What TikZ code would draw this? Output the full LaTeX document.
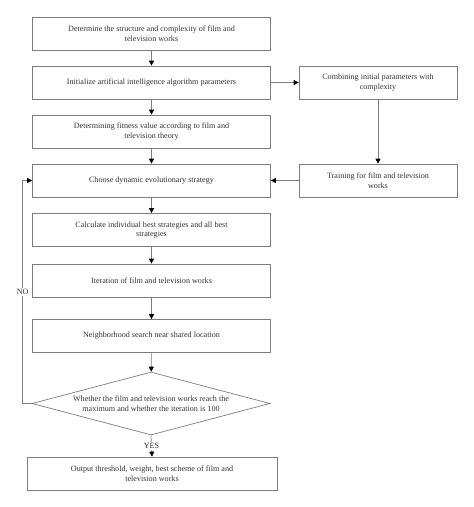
\documentclass[tikz,border=0pt]{standalone}
\usepackage{fontspec}
\setmainfont{Liberation Serif}
\usetikzlibrary{shapes.geometric,arrows.meta}
\definecolor{boxgray}{RGB}{125,125,125}
\definecolor{txtgray}{RGB}{50,50,50}
\begin{document}
\begin{tikzpicture}[x=1pt,y=-1pt,
  box/.style={draw=boxgray, line width=0.7pt, minimum width=238pt, minimum height=33pt, align=center,
    font=\fontsize{8.1}{9.5}\selectfont, text=txtgray, inner sep=0pt},
  rbox/.style={box, minimum width=158pt},
  dia/.style={draw=boxgray, line width=0.7pt, shape=diamond, aspect=3.78, minimum width=238pt, minimum height=63pt,
    align=center, font=\fontsize{8.1}{9.5}\selectfont, text=txtgray, inner sep=0pt},
  arr/.style={draw=boxgray, line width=0.7pt, -{Triangle[length=5pt,width=5pt,color=black]}},
  lbl/.style={font=\fontsize{8.1}{9}\selectfont, text=txtgray, fill=white, inner sep=1pt}]
\useasboundingbox (0,0) rectangle (474,507);
\node[box] (b1) at (151.5,33.5) {Determine the structure and complexity of film and\\television works};
\node[box] (b2) at (151.5,82.5) {Initialize artificial intelligence algorithm parameters};
\node[rbox] (r1) at (378,82.5) {Combining initial parameters with\\complexity};
\node[box] (b3) at (151.5,131.5) {Determining fitness value according to film and\\television theory};
\node[box] (b4) at (151.5,180.5) {Choose dynamic evolutionary strategy};
\node[rbox] (r2) at (378,180.5) {Training for film and television\\works};
\node[box] (b5) at (151.5,230) {Calculate individual best strategies and all best\\strategies};
\node[box] (b6) at (151.5,280.5) {Iteration of film and television works};
\node[box] (b7) at (151.5,336) {Neighborhood search near shared location};
\node[dia] (d) at (151,403.5) {Whether the film and television works reach the\\maximum and whether the iteration is 100};
\node[box, minimum width=250pt] (o) at (152,473.5) {Output threshold, weight, best scheme of film and\\television works};
\coordinate (lp) at (22.7,403.5);
\draw[arr] (b1) -- (b2);
\draw[arr] (b2) -- (r1);
\draw[arr] (b2) -- (b3);
\draw[arr] (b3) -- (b4);
\draw[arr] (r1) -- (r2);
\draw[arr] (r2) -- (b4);
\draw[arr] (b4) -- (b5);
\draw[arr] (b5) -- (b6);
\draw[arr] (b6) -- (b7);
\draw[arr] (b7) -- (d);
\draw[arr] (d.south) -- node[lbl, pos=0.5] {YES} (o.north);
\draw[arr] (d.west) -- (lp) |- node[lbl, pos=0.25] {NO} (b4.west);
\end{tikzpicture}
\end{document}
